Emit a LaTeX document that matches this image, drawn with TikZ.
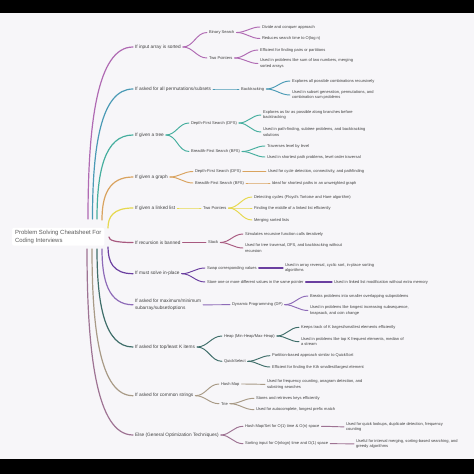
\documentclass[tikz,border=0pt]{standalone}
\usepackage{fontspec}
\setmainfont{Liberation Sans}
\usetikzlibrary{calc}

\definecolor{bgc}{HTML}{F7F6F9}
\definecolor{ink}{HTML}{3F3F3F}
\definecolor{sortc}{HTML}{B06AB3}
\definecolor{permc}{HTML}{4A9AB5}
\definecolor{treec}{HTML}{45AE9E}
\definecolor{graphc}{HTML}{D9A35F}
\definecolor{listc}{HTML}{E6D84E}
\definecolor{recc}{HTML}{A85A80}
\definecolor{placec}{HTML}{6B3FA0}
\definecolor{dpc}{HTML}{8E6BB8}
\definecolor{topc}{HTML}{3F6E6A}
\definecolor{strc}{HTML}{A89A86}
\definecolor{elsec}{HTML}{9E7393}

\begin{document}
\begin{tikzpicture}[
    x=1mm, y=-1mm,
    root/.style={anchor=west, fill=white, rounded corners=2mm,
                 inner xsep=3mm, inner ysep=2mm, align=left,
                 font=\fontsize{17}{23.6}\selectfont, text=ink!85},
    lone/.style={anchor=west, inner xsep=2mm, inner ysep=0.5mm, align=left,
                 font=\fontsize{13.5}{19.5}\selectfont, text=ink},
    ltwo/.style={anchor=west, inner xsep=2mm, inner ysep=0.5mm, align=left,
                 font=\fontsize{11.5}{15.5}\selectfont, text=ink},
    trunk/.style={line width=3.4pt, line cap=round},
    link/.style={line width=2.7pt, line cap=round},
]

% Frame
\useasboundingbox (0,0) rectangle (474,474);
\fill[bgc] (0,0) rectangle (474,474);
\fill[black] (0,0) rectangle (474,13);
\fill[black] (0,459) rectangle (474,474);

% Root
\node[root] (root) at (12,236.8) {Problem Solving Cheatsheet For\\Coding Interviews};

% If input array is sorted
\node[lone] (sorted) at (133,47) {If input array is sorted};
\node[ltwo] (bsearch) at (207,32.5) {Binary Search};
\node[ltwo] (tptr) at (207,58) {Two Pointers};
\node[ltwo] (bs1) at (260,27) {Divide and conquer approach};
\node[ltwo] (bs2) at (260,38.5) {Reduces search time to O(log n)};
\node[ltwo] (tp1) at (258,50) {Efficient for finding pairs or partitions};
\node[ltwo] (tp2) at (258,63.5) {Used in problems like sum of two numbers, merging\\sorted arrays};

% Permutations
\node[lone] (perm) at (133,89) {If asked for all permutations/subsets};
\node[ltwo] (backtr) at (239,89) {Backtracking};
\node[ltwo] (bt1) at (290,81) {Explores all possible combinations recursively};
\node[ltwo] (bt2) at (290,95) {Used in subset generation, permutations, and\\combination sum problems};

% Tree
\node[lone] (tree) at (133,135) {If given a tree};
\node[ltwo] (tdfs) at (189,123) {Depth-First Search (DFS)};
\node[ltwo] (tbfs) at (189,151.5) {Breadth-First Search (BFS)};
\node[ltwo] (td1) at (261,115) {Explores as far as possible along branches before\\backtracking};
\node[ltwo] (td2) at (261,132) {Used in path-finding, subtree problems, and backtracking\\solutions};
\node[ltwo] (tb1) at (265,146) {Traverses level by level};
\node[ltwo] (tb2) at (265,157) {Used in shortest path problems, level order traversal};

% Graph
\node[lone] (graph) at (133,177) {If given a graph};
\node[ltwo] (gdfs) at (193,171.5) {Depth-First Search (DFS)};
\node[ltwo] (gbfs) at (193,183) {Breadth-First Search (BFS)};
\node[ltwo] (gd1) at (266,171.5) {Used for cycle detection, connectivity, and pathfinding};
\node[ltwo] (gb1) at (270,183) {Ideal for shortest paths in an unweighted graph};

% Linked list
\node[lone] (llist) at (133,208) {If given a linked list};
\node[ltwo] (ltptr) at (201,208) {Two Pointers};
\node[ltwo] (lt1) at (252,197) {Detecting cycles (Floyd's Tortoise and Hare algorithm)};
\node[ltwo] (lt2) at (252,208) {Finding the middle of a linked list efficiently};
\node[ltwo] (lt3) at (252,220) {Merging sorted lists};

% Recursion
\node[lone] (recur) at (133,242.5) {If recursion is banned};
\node[ltwo] (stack) at (206,242.5) {Stack};
\node[ltwo] (st1) at (243,234) {Simulates recursive function calls iteratively};
\node[ltwo] (st2) at (243,248) {Used for tree traversal, DFS, and backtracking without\\recursion};

% In-place
\node[lone] (inplace) at (133,273.7) {If must solve in-place};
\node[ltwo] (swap) at (205,268) {Swap corresponding values};
\node[ltwo] (store) at (205,282) {Store one or more different values in the same pointer};
\node[ltwo] (sw1) at (283,268) {Used in array reversal, cyclic sort, in-place sorting\\algorithms};
\node[ltwo] (so1) at (332,282) {Used in linked list modification without extra memory};

% Maximum/minimum
\node[lone] (maxmin) at (133,304.8) {If asked for maximum/minimum\\subarray/subset/options};
\node[ltwo] (dp) at (230,304.7) {Dynamic Programming (DP)};
\node[ltwo] (dp1) at (308,296) {Breaks problems into smaller overlapping subproblems};
\node[ltwo] (dp2) at (308,310.5) {Used in problems like longest increasing subsequence,\\knapsack, and coin change};

% Top/least K
\node[lone] (topk) at (133,347) {If asked for top/least K items};
\node[ltwo] (heap) at (222,336) {Heap (Min-Heap/Max-Heap)};
\node[ltwo] (qsel) at (222,361.3) {QuickSelect};
\node[ltwo] (hp1) at (299,327.3) {Keeps track of K largest/smallest elements efficiently};
\node[ltwo] (hp2) at (299,341.7) {Used in problems like top K frequent elements, median of\\a stream};
\node[ltwo] (qs1) at (270,355.7) {Partition-based approach similar to QuickSort};
\node[ltwo] (qs2) at (270,367) {Efficient for finding the Kth smallest/largest element};

% Common strings
\node[lone] (strings) at (133,395.7) {If asked for common strings};
\node[ltwo] (hmap) at (219,384) {Hash Map};
\node[ltwo] (trie) at (219,403.7) {Trie};
\node[ltwo] (hm1) at (265,384.3) {Used for frequency counting, anagram detection, and\\substring searches};
\node[ltwo] (tr1) at (254,398.3) {Stores and retrieves keys efficiently};
\node[ltwo] (tr2) at (254,409.7) {Used for autocomplete, longest prefix match};

% Else
\node[lone] (other) at (133,435) {Else (General Optimization Techniques)};
\node[ltwo] (hset) at (243,426.3) {Hash Map/Set for O(1) time \& O(n) space};
\node[ltwo] (sortin) at (243,443.7) {Sorting input for O(nlogn) time and O(1) space};
\node[ltwo] (hs1) at (344,426.8) {Used for quick lookups, duplicate detection, frequency\\counting};
\node[ltwo] (si1) at (354,443.8) {Useful for interval merging, sorting-based searching, and\\greedy algorithms};

% Trunks from the root
\foreach \sx/\sy/\t/\c in {88/219/sorted/sortc, 92.5/219/perm/permc, 97/219/tree/treec,
    102/220/graph/graphc, 108/228/llist/listc, 109/237/recur/recc, 108/247/inplace/placec,
    102/249/maxmin/dpc, 97/249/topk/topc, 92/249/strings/strc, 87/249/other/elsec} {
    \coordinate (s-\t) at (\sx,\sy);
    \coordinate (k-\t) at (s-\t |- \t.west);
    \draw[trunk, \c] (s-\t) .. controls ($(s-\t)!0.55!(k-\t)$) and ($(\t.west)!0.8!(k-\t)$) .. (\t.west);
}

% Branch links
\foreach \a/\b/\c in {sorted/bsearch/sortc, sorted/tptr/sortc, bsearch/bs1/sortc, bsearch/bs2/sortc,
    tptr/tp1/sortc, tptr/tp2/sortc,
    perm/backtr/permc, backtr/bt1/permc, backtr/bt2/permc,
    tree/tdfs/treec, tree/tbfs/treec, tdfs/td1/treec, tdfs/td2/treec, tbfs/tb1/treec, tbfs/tb2/treec,
    graph/gdfs/graphc, graph/gbfs/graphc, gdfs/gd1/graphc, gbfs/gb1/graphc,
    llist/ltptr/listc, ltptr/lt1/listc, ltptr/lt2/listc, ltptr/lt3/listc,
    recur/stack/recc, stack/st1/recc, stack/st2/recc,
    inplace/swap/placec, inplace/store/placec,
    maxmin/dp/dpc, dp/dp1/dpc, dp/dp2/dpc,
    topk/heap/topc, topk/qsel/topc, heap/hp1/topc, heap/hp2/topc, qsel/qs1/topc, qsel/qs2/topc,
    strings/hmap/strc, strings/trie/strc, hmap/hm1/strc, trie/tr1/strc, trie/tr2/strc,
    other/hset/elsec, other/sortin/elsec, hset/hs1/elsec, sortin/si1/elsec} {
    \draw[link, \c] (\a.east) to[out=0, in=180] (\b.west);
}
\draw[trunk, placec] (swap.east) -- (sw1.west);
\draw[trunk, placec] (store.east) -- (so1.west);

\end{tikzpicture}
\end{document}
